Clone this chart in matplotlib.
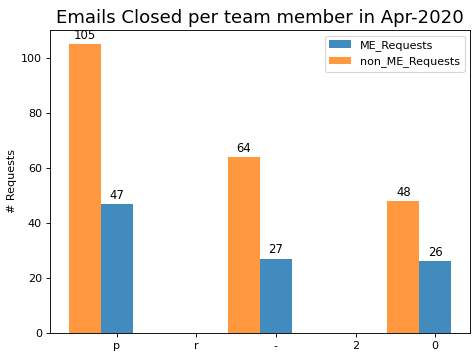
import numpy as np
import matplotlib.pyplot as plt

# data
tick_labels = ["p", "r", "-", "2", "0"]
group_pos = [0, 2, 4]
me_requests = [47, 27, 26]
non_me_requests = [105, 64, 48]

width = 0.4
x = np.array(group_pos)

fig, ax = plt.subplots(figsize=(474 / 80, 353 / 80), dpi=80)

b1 = ax.bar(x, me_requests, width, color="tab:blue", alpha=0.85, label="ME_Requests")
b2 = ax.bar(x - width, non_me_requests, width, color="tab:orange", alpha=0.8, label="non_ME_Requests")

ax.bar_label(b2, padding=2, fontsize=10.5)
ax.bar_label(b1, padding=2, fontsize=10.5)

ax.set_xticks(range(len(tick_labels)))
ax.set_xticklabels(tick_labels)
ax.set_ylabel("# Requests")
ax.set_title("Emails Closed per team member in Apr-2020", fontsize=16.3)
ax.legend()

plt.subplots_adjust(left=0.105, right=0.992, top=0.915, bottom=0.057)
plt.savefig("out.png")
